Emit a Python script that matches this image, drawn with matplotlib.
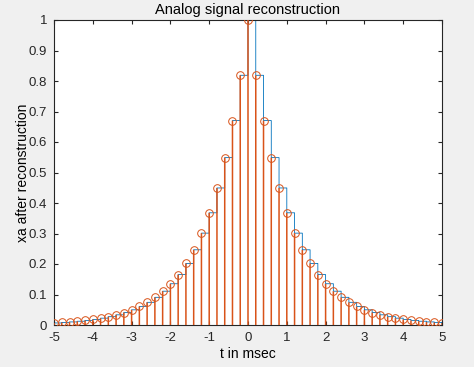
import matplotlib
matplotlib.use("Agg")
import matplotlib.pyplot as plt
import numpy as np

# sample times in msec (-5 .. 5 step 0.2)
t_ms = [-5.0, -4.8, -4.6, -4.4, -4.2, -4.0, -3.8, -3.6, -3.4, -3.2, -3.0,
        -2.8, -2.6, -2.4, -2.2, -2.0, -1.8, -1.6, -1.4, -1.2, -1.0,
        -0.8, -0.6, -0.4, -0.2, 0.0, 0.2, 0.4, 0.6, 0.8, 1.0,
        1.2, 1.4, 1.6, 1.8, 2.0, 2.2, 2.4, 2.6, 2.8, 3.0,
        3.2, 3.4, 3.6, 3.8, 4.0, 4.2, 4.4, 4.6, 4.8, 5.0]
half = [0.0067, 0.0082, 0.0101, 0.0123, 0.0150, 0.0183, 0.0224, 0.0273,
        0.0334, 0.0408, 0.0498, 0.0608, 0.0743, 0.0907, 0.1108, 0.1353,
        0.1653, 0.2019, 0.2466, 0.3012, 0.3679, 0.4493, 0.5488, 0.6703,
        0.8187]
xa = half + [1.0] + half[::-1]

xticks = [-5, -4, -3, -2, -1, 0, 1, 2, 3, 4, 5]
yticks = [0, 0.1, 0.2, 0.3, 0.4, 0.5, 0.6, 0.7, 0.8, 0.9, 1]
yticklabels = ["0", "0.1", "0.2", "0.3", "0.4", "0.5", "0.6", "0.7", "0.8", "0.9", "1"]

plt.rcParams['font.family'] = ['Liberation Sans', 'DejaVu Sans']

fig = plt.figure(figsize=(4.74, 3.67), dpi=100, facecolor='#f0f0f0')
ax = fig.add_axes([54/474, 1 - 325/367, (442-54)/474, (325-20)/367])
ax.set_facecolor('white')

blue = '#0072BD'
orange = '#D95319'

step_line, = ax.step(t_ms, xa, where='post', color=blue, lw=0.6, zorder=2)
step_line.set_snap(False)
markerline, stemlines, baseline = ax.stem(t_ms, xa, basefmt=' ')
plt.setp(stemlines, color=orange, lw=1.1, zorder=3)
stemlines.set_snap(False)
plt.setp(markerline, color=orange, marker='o', markersize=5.5,
         markerfacecolor='none', markeredgewidth=0.7, zorder=4)

ax.set_xlim(-5, 5)
ax.set_ylim(0, 1)
ax.set_xticks(xticks)
ax.set_xticklabels([str(v) for v in xticks])
ax.set_yticks(yticks)
ax.set_yticklabels(yticklabels)
ax.tick_params(direction='in', length=3, width=0.8, top=True, right=True,
               labelsize=9.5, colors='#262626')
ax.tick_params(axis='x', pad=5)
ax.tick_params(axis='y', pad=5)
for s in ax.spines.values():
    s.set_color('#262626')
    s.set_linewidth(0.8)

ax.set_title('Analog signal reconstruction', fontsize=10.5, color='#000000', pad=4)
ax.set_xlabel('t in msec', fontsize=10, labelpad=2)
ax.set_ylabel('xa after reconstruction', fontsize=10, labelpad=-1)

fig.savefig('out.png', dpi=100, facecolor=fig.get_facecolor())
